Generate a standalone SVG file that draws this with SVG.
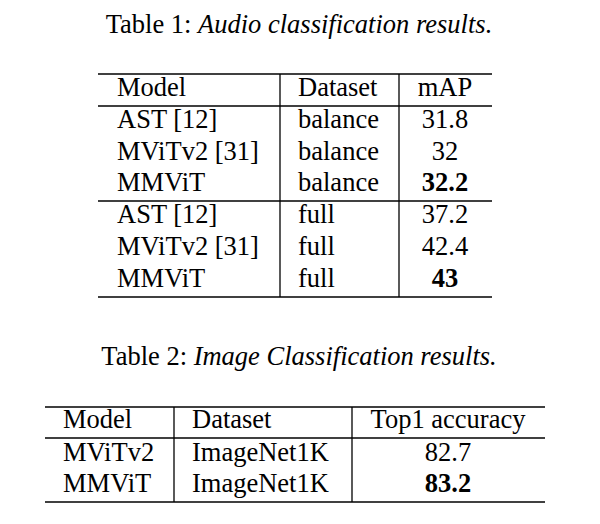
<svg xmlns="http://www.w3.org/2000/svg" width="600" height="524" viewBox="0 0 600 524">
<style>
text{font-family:"Liberation Serif",serif;font-size:26.5px;fill:#000}
.c{text-anchor:middle}.b{font-weight:bold}
line{stroke:#000;stroke-width:1.3}
</style>
<rect width="600" height="524" fill="#fff"/>
<g id="table1">
<text x="299" y="33" class="c">Table 1: <tspan font-style="italic">Audio classification results.</tspan></text>
<line x1="98" y1="74" x2="492" y2="74"/>
<line x1="98" y1="106" x2="492" y2="106"/>
<line x1="98" y1="201" x2="492" y2="201"/>
<line x1="98" y1="297" x2="492" y2="297"/>
<line x1="280" y1="74" x2="280" y2="297"/>
<line x1="399" y1="74" x2="399" y2="297"/>
<text x="117" y="96">Model</text><text x="298" y="96">Dataset</text><text x="445" y="96" class="c">mAP</text>
<text x="117" y="128">AST [12]</text><text x="298" y="128">balance</text><text x="445" y="128" class="c">31.8</text>
<text x="117" y="160">MViTv2 [31]</text><text x="298" y="160">balance</text><text x="445" y="160" class="c">32</text>
<text x="117" y="191">MMViT</text><text x="298" y="191">balance</text><text x="445" y="191" class="c b">32.2</text>
<text x="117" y="223">AST [12]</text><text x="298" y="223">full</text><text x="445" y="223" class="c">37.2</text>
<text x="117" y="255">MViTv2 [31]</text><text x="298" y="255">full</text><text x="445" y="255" class="c">42.4</text>
<text x="117" y="287">MMViT</text><text x="298" y="287">full</text><text x="445" y="287" class="c b">43</text>
</g>
<g id="table2">
<text x="299" y="365" class="c">Table 2: <tspan font-style="italic">Image Classification results.</tspan></text>
<line x1="45" y1="407" x2="545" y2="407"/>
<line x1="45" y1="438" x2="545" y2="438"/>
<line x1="45" y1="502" x2="545" y2="502"/>
<line x1="174" y1="407" x2="174" y2="502"/>
<line x1="352" y1="407" x2="352" y2="502"/>
<text x="63" y="428">Model</text><text x="192" y="428">Dataset</text><text x="448" y="428" class="c">Top1 accuracy</text>
<text x="63" y="461">MViTv2</text><text x="192" y="461">ImageNet1K</text><text x="448" y="461" class="c">82.7</text>
<text x="63" y="492">MMViT</text><text x="192" y="492">ImageNet1K</text><text x="448" y="492" class="c b">83.2</text>
</g>
</svg>
